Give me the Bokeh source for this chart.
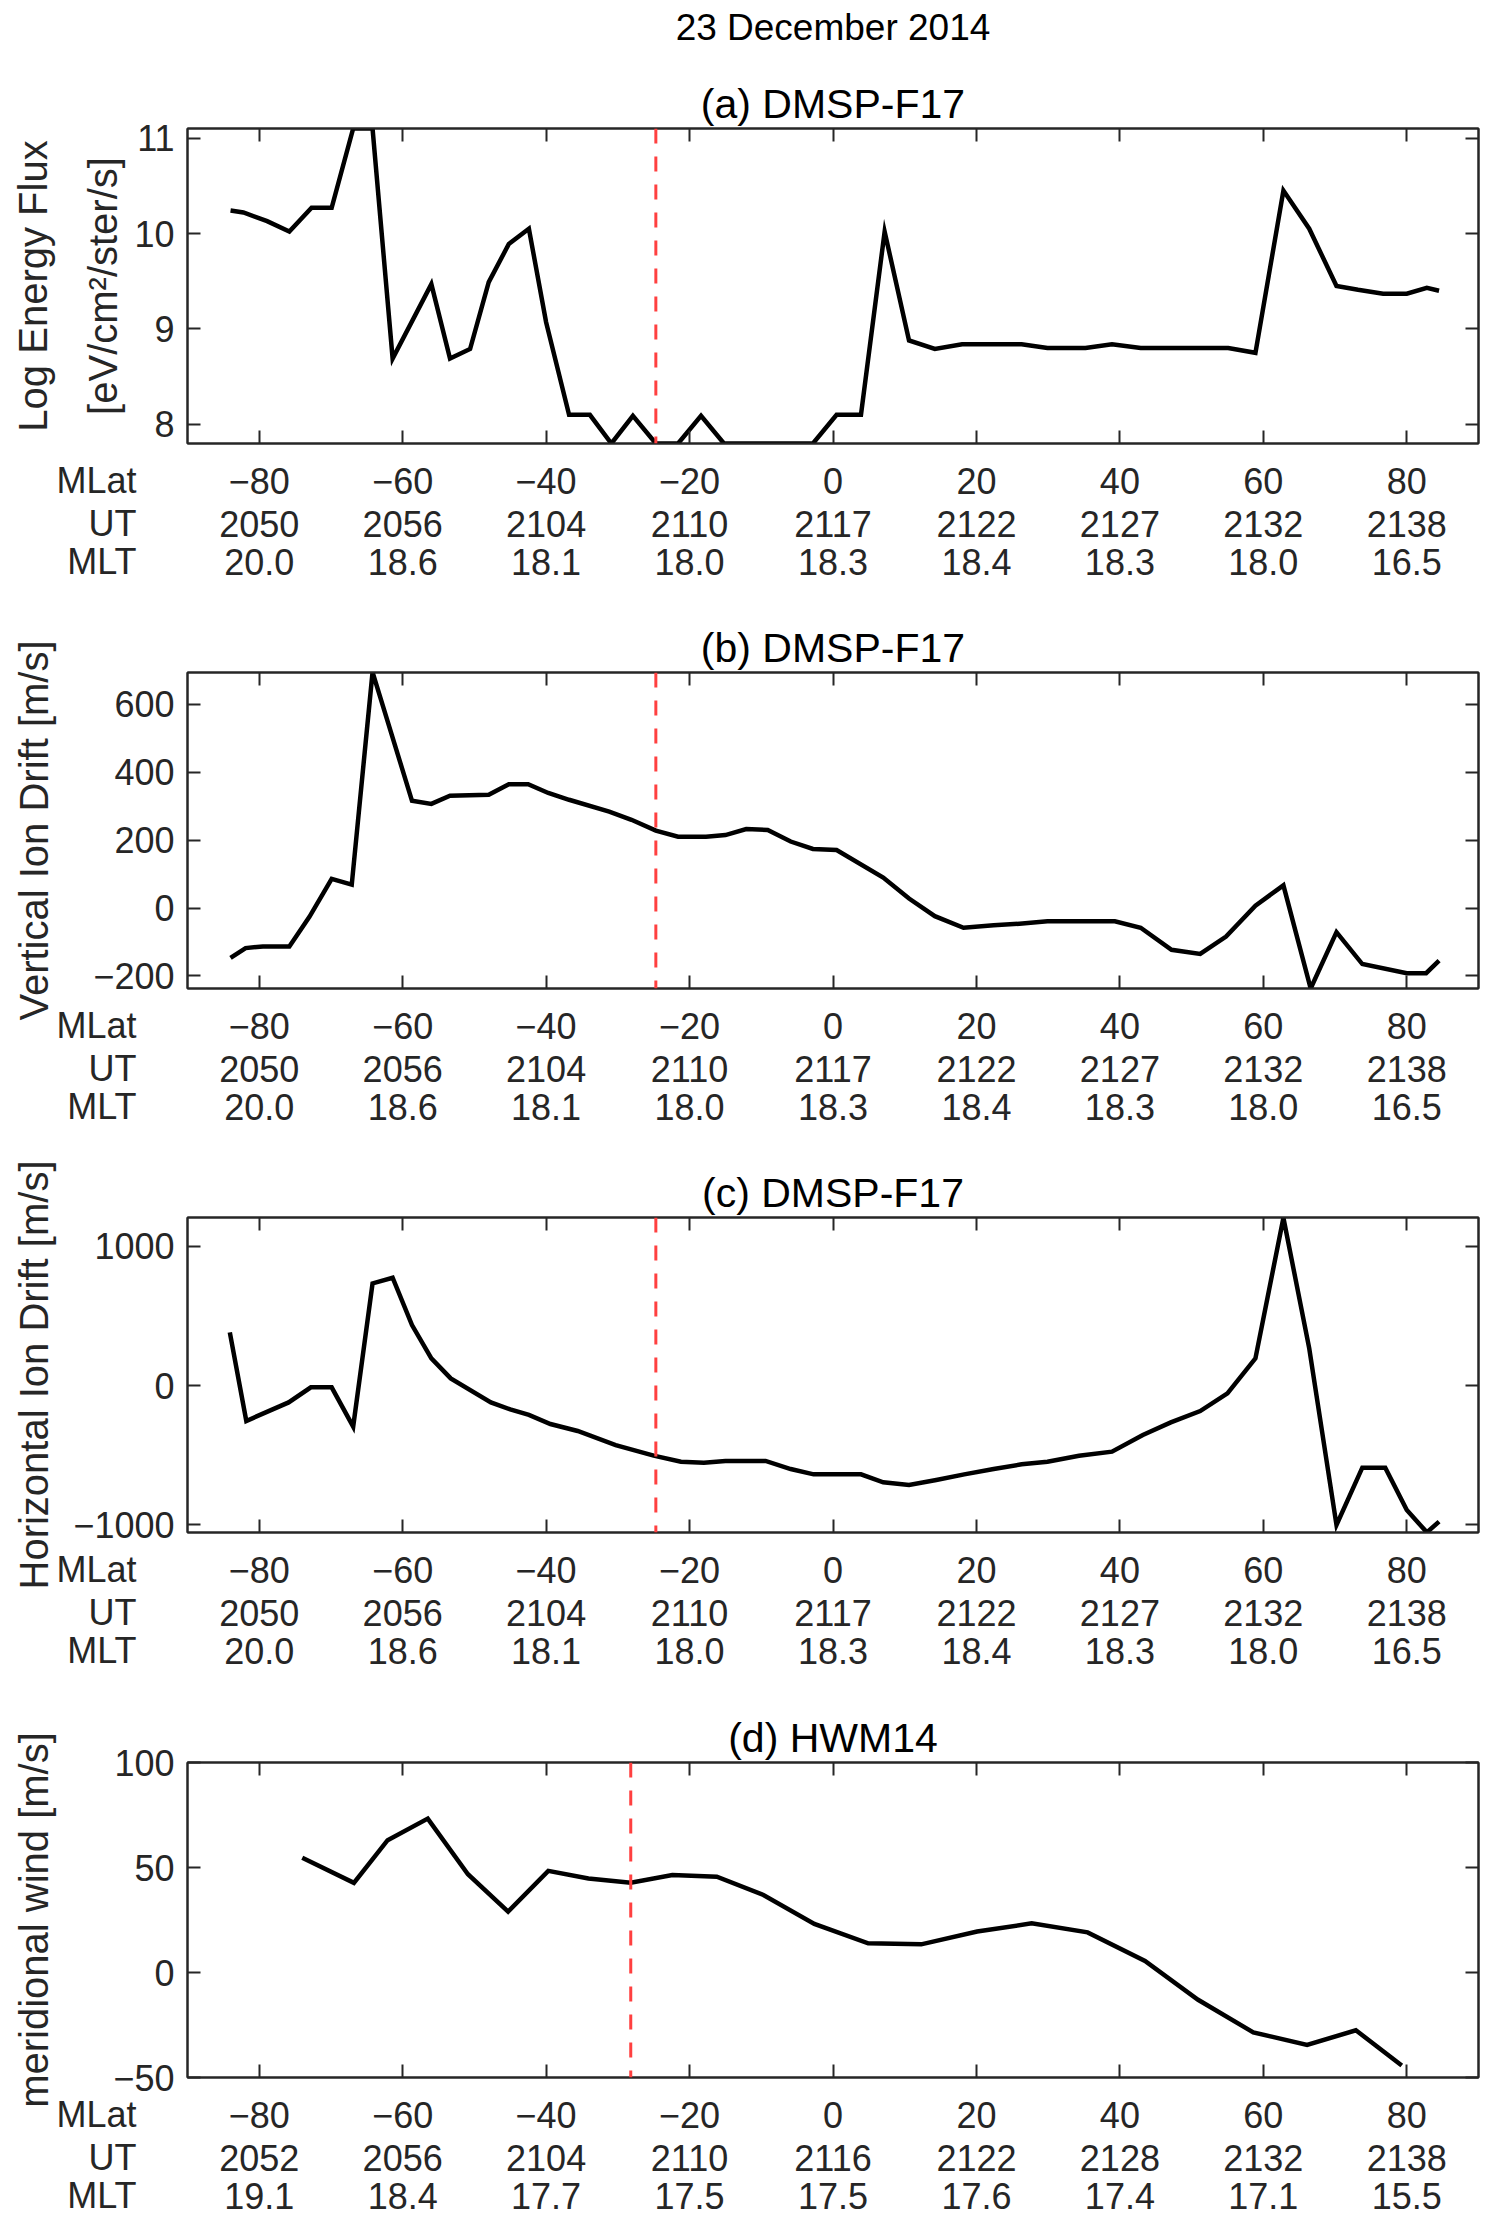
from bokeh.plotting import figure
from bokeh.models import LinearAxis, FixedTicker, Span, Range1d, CustomLabelingPolicy
from bokeh.layouts import column
from bokeh.core.properties import value
from bokeh.embed import file_html
from bokeh.resources import INLINE

# ---------------- data ----------------
mlat_ticks = [-80, -60, -40, -20, 0, 20, 40, 60, 80]

ut_dmsp = ["2050", "2056", "2104", "2110", "2117", "2122", "2127", "2132", "2138"]
mlt_dmsp = ["20.0", "18.6", "18.1", "18.0", "18.3", "18.4", "18.3", "18.0", "16.5"]
ut_hwm = ["2052", "2056", "2104", "2110", "2116", "2122", "2128", "2132", "2138"]
mlt_hwm = ["19.1", "18.4", "17.7", "17.5", "17.5", "17.6", "17.4", "17.1", "15.5"]

# (a) log energy flux of precipitating particles
flux_mlat = [-84.0, -82.2, -78.9, -75.8, -72.7, -69.9, -66.9, -64.2, -61.4, -56.0,
             -53.4, -50.6, -48.0, -45.2, -42.4, -40.0, -36.8, -33.9, -30.9, -27.9,
             -24.7, -21.6, -18.4, -15.2, -2.8, 0.5, 3.9, 7.2, 10.6, 14.2,
             18.0, 26.3, 29.9, 35.2, 38.9, 42.9, 55.1, 58.9, 62.8, 66.4,
             70.2, 73.2, 76.7, 80.0, 82.8, 84.5]
flux = [10.24, 10.22, 10.13, 10.02, 10.27, 10.27, 11.1, 11.1, 8.69, 9.47,
        8.69, 8.79, 9.49, 9.89, 10.05, 9.07, 8.1, 8.1, 7.8, 8.09,
        7.8, 7.8, 8.09, 7.8, 7.8, 8.1, 8.1, 10.02, 8.88, 8.79,
        8.84, 8.84, 8.80, 8.80, 8.84, 8.80, 8.80, 8.75, 10.45, 10.05,
        9.45, 9.41, 9.37, 9.37, 9.43, 9.40]

# (b) vertical ion drift
vd_mlat = [-84.0, -81.9, -79.5, -75.8, -73.0, -69.9, -67.1, -64.2, -58.7, -56.0,
           -53.4, -48.0, -45.2, -42.5, -39.7, -36.8, -31.2, -28.1, -24.7, -21.6,
           -17.7, -15.0, -12.1, -9.1, -5.9, -2.8, 0.5, 7.0, 10.6, 14.2,
           18.2, 22.4, 26.0, 29.9, 39.3, 42.9, 47.2, 51.2, 54.8, 58.9,
           62.8, 66.6, 70.2, 73.8, 80.0, 82.7, 84.5]
vd = [-147, -118, -113, -113, -26, 86, 69, 695, 316, 307,
      331, 334, 365, 365, 339, 319, 284, 260, 228, 210,
      210, 215, 233, 230, 196, 174, 171, 90, 28, -24,
      -58, -51, -46, -39, -39, -58, -123, -135, -84, 7,
      67, -237, -71, -165, -192, -192, -155]

# (c) horizontal ion drift
hd_mlat = [-84.1, -81.8, -75.9, -72.8, -69.9, -66.9, -64.2, -61.4, -58.7, -56.0,
           -53.3, -47.7, -45.0, -42.4, -39.4, -35.6, -30.3, -25.0, -21.2, -18.0,
           -15.0, -9.4, -5.9, -2.7, 3.9, 7.0, 10.6, 14.4, 18.3, 22.4,
           26.3, 29.9, 34.3, 38.9, 43.2, 47.1, 51.2, 55.0, 58.9, 62.8,
           66.4, 70.2, 73.8, 77.0, 80.0, 82.8, 84.5]
hd = [381, -254, -121, -13, -13, -295, 732, 773, 434, 195,
      51, -121, -171, -211, -276, -326, -427, -503, -546, -553,
      -541, -541, -599, -637, -637, -694, -713, -677, -637, -599,
      -565, -546, -503, -474, -355, -264, -183, -56, 195, 1203,
      266, -1000, -589, -589, -893, -1053, -976]

# (d) HWM14 meridional wind
wind_mlat = [-74.0, -66.8, -62.1, -56.5, -50.9, -45.3, -39.7, -34.1, -28.2, -22.4,
             -16.2, -9.7, -2.6, 4.9, 12.3, 20.1, 27.7, 35.5, 43.5, 50.9,
             58.6, 66.1, 72.9, 79.3]
wind = [54.6, 42.7, 63.0, 73.3, 46.8, 29.0, 48.4, 44.8, 42.7, 46.4,
        45.6, 36.9, 23.1, 13.9, 13.4, 19.5, 23.4, 19.1, 5.5, -13.0,
        -28.5, -34.5, -27.5, -44.3]

# magnetic latitude of the marked boundary in each panel
front_mlat = [-24.7, -24.7, -24.7, -28.2]

row_names = ["MLat", "UT", "MLT"]

# ---------------- layout / styling ----------------
FONT = "Liberation Sans"
AX = "#262626"
TICK_PX = "36px"
LABEL_PX = "40px"
TITLE_PX = "41px"
PAGE_W = 1493
LEFT, RIGHT = 187, 15
ROW_CENTER = [37, 80, 118]   # distance of each label row below the frame


def num(v):
    return f"{v:g}".replace("-", "\u2212")


def no_labels():
    return CustomLabelingPolicy(code="for (const i of indices) indices.unset(i)\nreturn indices")


def style_axis(ax, ticks, hide_labels=False):
    ax.ticker = FixedTicker(ticks=ticks)
    ax.major_label_overrides = {t: num(t) for t in ticks}
    ax.minor_tick_line_color = None
    ax.major_tick_in = 13
    ax.major_tick_out = 0
    ax.major_tick_line_width = 2
    ax.major_tick_line_color = AX
    ax.axis_line_color = AX
    ax.axis_line_width = 2
    ax.major_label_text_font = FONT
    ax.major_label_text_font_size = TICK_PX
    ax.major_label_text_color = AX
    if hide_labels:
        ax.major_label_text_font_size = "0px"
        ax.major_label_standoff = 0
        ax.major_label_policy = no_labels()


def heading_axis(p, text, size, standoff, draw_ticks):
    """Top axis whose label serves as a heading."""
    ax = LinearAxis()
    style_axis(ax, mlat_ticks, hide_labels=True)
    if not draw_ticks:
        ax.axis_line_color = None
        ax.major_tick_line_color = None
    ax.axis_label = text
    ax.axis_label_text_font = FONT
    ax.axis_label_text_font_size = size
    ax.axis_label_text_font_style = "normal"
    ax.axis_label_text_color = "black"
    ax.axis_label_standoff = standoff
    p.add_layout(ax, "above")


def make_panel(title, xs, ys, yr, yticks, ylabel, ylabel_standoff, front,
               ut, mlt, top, frame_h, bottom, suptitle=None):
    p = figure(width=PAGE_W, height=top + frame_h + bottom,
               x_range=Range1d(-90, 90), y_range=Range1d(*yr),
               output_backend="svg", toolbar_location=None,
               min_border_left=LEFT, min_border_right=RIGHT,
               min_border_top=top, min_border_bottom=bottom)
    p.xgrid.visible = False
    p.ygrid.visible = False
    p.outline_line_color = AX
    p.outline_line_width = 2

    style_axis(p.xaxis[0], mlat_ticks, hide_labels=True)

    ya = p.yaxis[0]
    style_axis(ya, yticks)
    ya.major_label_standoff = 13
    ya.axis_label = ylabel
    ya.axis_label_text_font = FONT
    ya.axis_label_text_font_size = LABEL_PX
    ya.axis_label_text_font_style = "normal"
    ya.axis_label_text_color = AX
    ya.axis_label_standoff = ylabel_standoff
    ya.axis_label_text_line_height = 1.6

    heading_axis(p, title, TITLE_PX, 2, True)
    if suptitle:
        heading_axis(p, suptitle, "37px", 30, False)

    right_ax = LinearAxis()
    style_axis(right_ax, yticks, hide_labels=True)
    p.add_layout(right_ax, "right")

    p.add_layout(Span(location=front, dimension="height", line_color="#ff4040",
                      line_width=3, line_dash="15 13"))
    p.line(xs, ys, line_color="black", line_width=4.5, line_join="miter")

    # MLat / UT / MLT rows, laid over the space below the frame
    r = figure(width=PAGE_W, height=bottom,
               x_range=Range1d(-90, 90), y_range=Range1d(-bottom, 0),
               x_axis_type=None, output_backend="svg", toolbar_location=None,
               min_border_left=LEFT, min_border_right=RIGHT,
               min_border_top=0, min_border_bottom=0,
               margin=(-bottom, 0, 0, 0))
    r.outline_line_color = None
    r.background_fill_color = None
    r.border_fill_color = None
    r.ygrid.visible = False
    ra = r.yaxis[0]
    ra.ticker = FixedTicker(ticks=[-c for c in ROW_CENTER])
    ra.major_label_overrides = {-c: n for c, n in zip(ROW_CENTER, row_names)}
    ra.axis_line_color = None
    ra.major_tick_line_color = None
    ra.minor_tick_line_color = None
    ra.major_tick_in = 0
    ra.major_tick_out = 0
    ra.major_label_standoff = 51
    ra.major_label_text_font = FONT
    ra.major_label_text_font_size = TICK_PX
    ra.major_label_text_color = AX

    rows = [[num(t) for t in mlat_ticks], ut, mlt]
    for labels, c in zip(rows, ROW_CENTER):
        r.text(x=mlat_ticks, y=[-c] * len(mlat_ticks), text=labels,
               text_font=value(FONT), text_font_size=value(TICK_PX),
               text_align="center", text_baseline="middle", text_color=AX)
    return [p, r]


figs = []
figs += make_panel("(a) DMSP-F17", flux_mlat, flux, (7.8, 11.1), [8, 9, 10, 11],
                   "Log Energy Flux\n[eV/cm\u00b2/ster/s]", 6, front_mlat[0],
                   ut_dmsp, mlt_dmsp, 128, 315, 157, suptitle="23 December 2014")
figs += make_panel("(b) DMSP-F17", vd_mlat, vd, (-237, 694), [-200, 0, 200, 400, 600],
                   "Vertical Ion Drift [m/s]", 34, front_mlat[1],
                   ut_dmsp, mlt_dmsp, 72, 316, 157)
figs += make_panel("(c) DMSP-F17", hd_mlat, hd, (-1054, 1205), [-1000, 0, 1000],
                   "Horizontal Ion Drift [m/s]", 14, front_mlat[2],
                   ut_dmsp, mlt_dmsp, 72, 315, 158)
figs += make_panel("(d) HWM14", wind_mlat, wind, (-50, 100), [-50, 0, 50, 100],
                   "meridional wind [m/s]", 54, front_mlat[3],
                   ut_hwm, mlt_hwm, 72, 315, 157)

page = column(*figs, spacing=0)
open("out.html", "w").write(file_html(page, INLINE))
